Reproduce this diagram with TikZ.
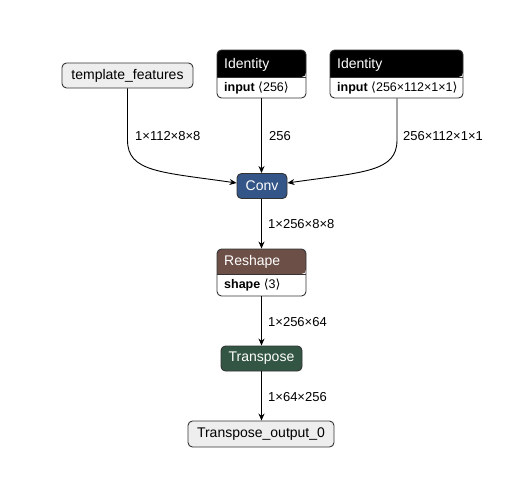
\documentclass[tikz,border=0pt]{standalone}
\usepackage{fontspec}
\setmainfont{Liberation Sans}
\newfontfamily\dejavu{DejaVu Sans}
\usetikzlibrary{arrows.meta}
\definecolor{bordc}{HTML}{333333}
\definecolor{iofill}{HTML}{EEEEEE}
\definecolor{convc}{HTML}{335588}
\definecolor{shapec}{HTML}{6C4F47}
\definecolor{transc}{HTML}{335544}
\newcommand{\lb}{{\dejavu\char"27E8}}
\newcommand{\rb}{{\dejavu\char"27E9}}
\tikzset{
  iobox/.style={draw=bordc, fill=iofill, line width=0.9pt, rounded corners=4.5pt, inner sep=0pt, minimum height=25pt, font=\fontsize{14}{16}\selectfont},
  opbox/.style={draw=bordc, line width=0.9pt, rounded corners=4.5pt, inner sep=0pt, minimum height=25pt, text=white, font=\fontsize{14}{16}\selectfont},
  frame/.style={draw=bordc, line width=0.9pt, rounded corners=4.5pt, inner sep=0pt},
  htext/.style={anchor=west, text=white, inner sep=0pt, font=\fontsize{14}{16}\selectfont},
  btext/.style={anchor=west, inner sep=0pt, font=\fontsize{12.5}{14}\selectfont},
  elabel/.style={anchor=west, inner sep=0pt, font=\fontsize{13}{15}\selectfont},
  conn/.style={line width=0.9pt, -{Stealth[length=7pt,width=6pt]}},
}
\begin{document}
\begin{tikzpicture}[x=1pt,y=-1pt]
\useasboundingbox (0,0) rectangle (509,480);

% template_features
\node[iobox, minimum width=131pt] (tf) at (127.5,75.5) {template\_features};

% Identity 1
\fill[black, rounded corners=4.5pt] (217,77) -- (217,50) -- (306,50) -- (306,77) [sharp corners] -- cycle;
\node[frame, minimum width=89pt, minimum height=48pt] (id1) at (261.5,74) {};
\draw[bordc, line width=0.6pt] (id1.west |- 0,77) -- (id1.east |- 0,77);
\node[htext] (id1h) at (224,64.5) {Identity};
\node[btext] (id1b) at (224,88) {\textbf{input} \lb256\rb};

% Identity 2
\fill[black, rounded corners=4.5pt] (330,77) -- (330,50) -- (463,50) -- (463,77) [sharp corners] -- cycle;
\node[frame, minimum width=133pt, minimum height=48pt] (id2) at (396.5,74) {};
\draw[bordc, line width=0.6pt] (id2.west |- 0,77) -- (id2.east |- 0,77);
\node[htext] (id2h) at (337,64.5) {Identity};
\node[btext] (id2b) at (337,88) {\textbf{input} \lb256×112×1×1\rb};

% Conv
\node[opbox, fill=convc, minimum width=50pt, minimum height=25pt] (conv) at (262,186) {Conv};

% Reshape
\fill[shapec, rounded corners=4.5pt] (217,274) -- (217,249) -- (306,249) -- (306,274) [sharp corners] -- cycle;
\node[frame, minimum width=89pt, minimum height=47pt] (resh) at (261.5,272.5) {};
\draw[bordc, line width=0.6pt] (resh.west |- 0,274) -- (resh.east |- 0,274);
\node[htext] (reshh) at (224,262) {Reshape};
\node[btext] (reshb) at (224,285.5) {\textbf{shape} \lb3\rb};

% Transpose
\node[opbox, fill=transc, minimum width=81pt, minimum height=25pt] (tr) at (261.5,358.5) {Transpose};

% output
\node[iobox, minimum width=146pt, minimum height=26pt] (out) at (261,434) {Transpose\_output\_0};

% connectors
\coordinate (tfa) at (127.5,140);
\coordinate (id2a) at (397,140);
\draw[conn] (tf.south -| 127.5,0) -- (tfa) .. controls (127.5,172) and (160,172) .. (conv.west |- 0,183);
\draw[conn] (id2.south -| 397,0) -- (id2a) .. controls (397,172) and (364,172) .. (conv.east |- 0,183);
\draw[conn] (id1.south -| 261.5,0) -- (conv.north -| 261.5,0);
\draw[conn] (conv.south -| 261.5,0) -- (resh.north -| 261.5,0);
\draw[conn] (resh.south -| 261.5,0) -- (tr.north -| 261.5,0);
\draw[conn] (tr.south -| 261.5,0) -- (out.north -| 261.5,0);

% edge labels
\node[elabel] (l1) at (135,136) {1×112×8×8};
\node[elabel] (l2) at (269,136) {256};
\node[elabel] (l3) at (403,136) {256×112×1×1};
\node[elabel] (l4) at (268,224) {1×256×8×8};
\node[elabel] (l5) at (268,322) {1×256×64};
\node[elabel] (l6) at (268,397) {1×64×256};
\end{tikzpicture}
\end{document}
